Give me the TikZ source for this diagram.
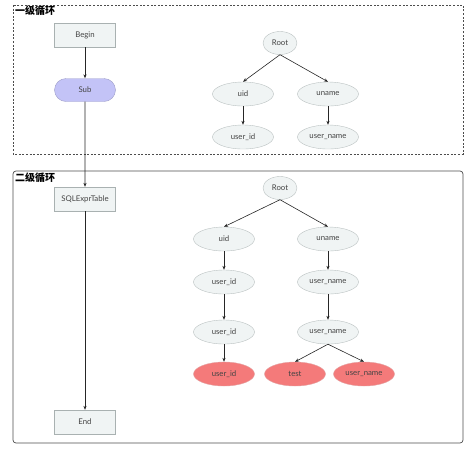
\documentclass[tikz,border=0pt]{standalone}
\usepackage{fontspec}
\setmainfont{Lato}
\newfontfamily\cjk{Noto Sans CJK SC}
\usetikzlibrary{shapes.geometric,shapes.misc,arrows.meta}
\definecolor{boxfill}{HTML}{F0F4F4}
\definecolor{boxline}{HTML}{A9B1B1}
\definecolor{subfill}{HTML}{C3C3F7}
\definecolor{subline}{HTML}{9E9EC8}
\definecolor{hitfill}{HTML}{F47A7A}
\definecolor{hitline}{HTML}{E3A3A3}
\definecolor{txt}{HTML}{444444}
\begin{document}
\begin{tikzpicture}[x=1pt,y=-1pt]
  \tikzset{
    every node/.style={font=\fontsize{7.8}{9}\selectfont, text=txt},
    stepbox/.style={draw=boxline, fill=boxfill, rectangle, minimum width=61pt, minimum height=24pt, inner sep=0pt},
    subbox/.style={draw=subline, fill=subfill, rounded rectangle, minimum width=61pt, minimum height=23pt, inner sep=0pt},
    field/.style={draw=boxline!80, fill=boxfill, ellipse, minimum width=61pt, minimum height=24pt, inner sep=0pt},
    rootfield/.style={field, minimum width=34pt, minimum height=23pt},
    hit/.style={field, draw=hitline, fill=hitfill},
    link/.style={-{Stealth[length=4pt,width=3.2pt]}, black!85, line width=0.6pt},
    looplabel/.style={font=\cjk\bfseries\fontsize{10}{11}\selectfont, text=black, anchor=north west, inner sep=0pt}
  }
  \path[use as bounding box] (0,0) rectangle (474,451);

  % loop frames
  \draw[black!70, dash pattern=on 2pt off 1.6pt, line width=0.6pt] (13,5) rectangle (463,154);
  \draw[black!70, rounded corners=3pt, line width=0.7pt] (13,171) rectangle (463,443);
  \node[looplabel] (l1) at (15,6) {一级循环};
  \node[looplabel] (l2) at (15,173) {二级循环};

  % main flow
  \node[stepbox] (begin) at (85,35) {Begin};
  \node[subbox] (sub) at (85,90) {Sub};
  \node[stepbox] (sqlexpr) at (85,199) {SQLExprTable};
  \node[stepbox] (end) at (85,422) {End};

  \draw[link] (begin) -- (sub);
  \draw[link] (sub) -- (sqlexpr);
  \draw[link] (sqlexpr) -- (end);

  % first level tree
  \node[rootfield] (rootA) at (280,43) {Root};
  \node[field] (uidA) at (243,94) {uid};
  \node[field] (unameA) at (328,94) {uname};
  \node[field] (useridA) at (243,137) {user\_id};
  \node[field] (usernameA) at (328,137) {user\_name};

  \draw[link] (rootA.south) -- (uidA.north);
  \draw[link] (rootA.south) -- (unameA.north);
  \draw[link] (uidA) -- (useridA);
  \draw[link] (unameA) -- (usernameA);

  % second level tree
  \node[rootfield] (rootB) at (280,188) {Root};
  \node[field] (uidB) at (224,239) {uid};
  \node[field] (unameB) at (328,239) {uname};
  \node[field] (useridB) at (224,282) {user\_id};
  \node[field] (usernameB) at (328,282) {user\_name};
  \node[field] (useridC) at (224,332) {user\_id};
  \node[field] (usernameC) at (328,332) {user\_name};
  \node[hit] (useridD) at (224,374) {user\_id};
  \node[hit] (test) at (295,374) {test};
  \node[hit] (usernameD) at (364,374) {user\_name};

  \draw[link] (rootB.south) -- (uidB.north);
  \draw[link] (rootB.south) -- (unameB.north);
  \foreach \a/\b in {uidB/useridB, useridB/useridC, useridC/useridD,
                     unameB/usernameB, usernameB/usernameC} {
    \draw[link] (\a) -- (\b);
  }
  \draw[link] (usernameC.south) -- (test.north);
  \draw[link] (usernameC.south) -- (usernameD.north);
\end{tikzpicture}
\end{document}
